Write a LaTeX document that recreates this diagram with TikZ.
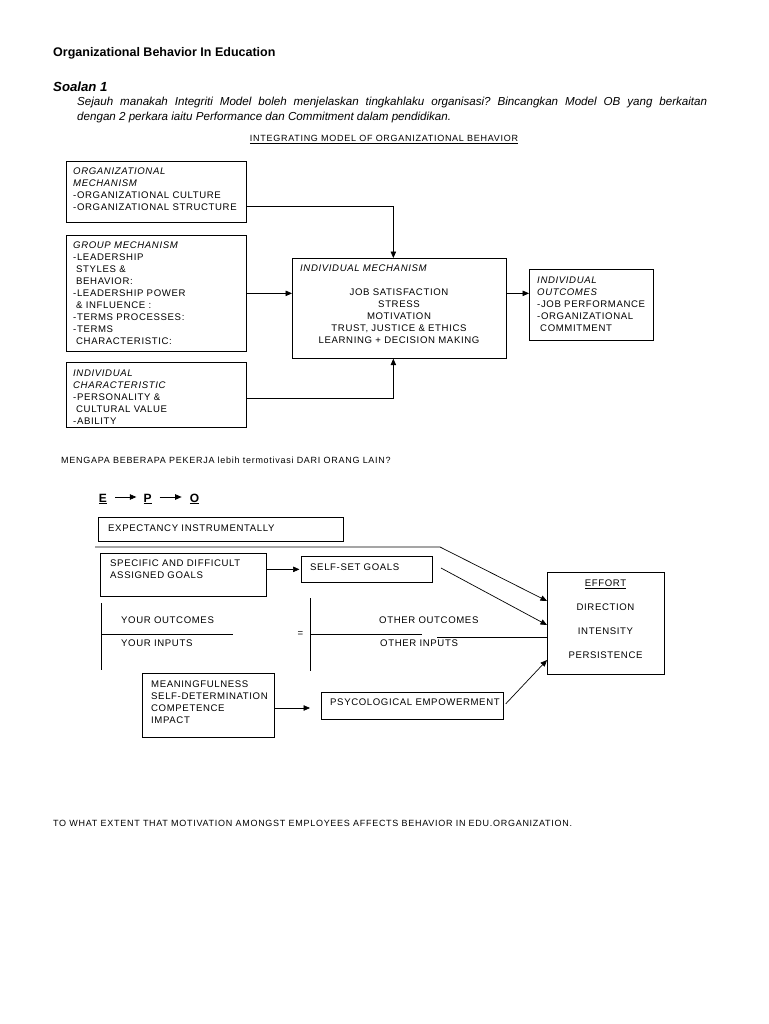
\documentclass[tikz,border=0pt]{standalone}
\usepackage{fontspec}
\setmainfont{Liberation Sans}
\newfontfamily\lsfont[LetterSpace=6.5]{Liberation Sans}
\newfontfamily\lsfontb[LetterSpace=8]{Liberation Sans}
\usetikzlibrary{arrows.meta,calc}
\newcommand\bxf{\lsfont\fontsize{9.6}{12}\selectfont}
\newcommand\smf{\lsfontb\fontsize{9}{11}\selectfont}
\frenchspacing
\begin{document}
\begin{tikzpicture}[x=1pt,y=-1pt,
  box/.style={draw, line width=0.7pt, inner sep=0pt, anchor=north west},
  tl/.style={font=\bxf, align=left, inner sep=0pt, anchor=north west},
  tc/.style={font=\bxf, align=center, inner sep=0pt, anchor=north},
  lbl/.style={font=\bxf, inner sep=0pt, anchor=base west},
  arr/.style={line width=0.7pt, -{Triangle[length=6.5pt,width=5.5pt]}},
  ln/.style={line width=0.7pt}]
\useasboundingbox[fill=white] (0,0) rectangle (768,1024);

% header
\node[anchor=base west, inner sep=0pt, font=\fontsize{12.5}{15}\bfseries\selectfont] (title) at (53,56.5) {Organizational Behavior In Education};
\node[anchor=base west, inner sep=0pt, font=\fontsize{13.2}{16}\bfseries\itshape\selectfont] (soalan) at (53,91.5) {Soalan 1};
\node[anchor=base west, inner sep=0pt, font=\fontsize{11.6}{14}\itshape\selectfont] (q1) at (77,106) {\makebox[630pt][s]{Sejauh manakah Integriti Model boleh menjelaskan tingkahlaku organisasi? Bincangkan Model OB yang berkaitan}};
\node[anchor=base west, inner sep=0pt, font=\fontsize{11.6}{14}\itshape\selectfont] (q2) at (77,121) {dengan 2 perkara iaitu Performance dan Commitment dalam pendidikan.};
\node[anchor=base, inner sep=0pt, font=\smf] (head) at (384,141.5) {\underline{INTEGRATING MODEL OF ORGANIZATIONAL BEHAVIOR}};

% first diagram boxes
\node[box, minimum width=180pt, minimum height=61pt] (org) at (66,161) {};
\node[box, minimum width=180pt, minimum height=116pt] (grp) at (66,235) {};
\node[box, minimum width=180pt, minimum height=65pt] (ich) at (66,362) {};
\node[box, minimum width=214pt, minimum height=100pt] (mech) at (292,258) {};
\node[box, minimum width=124pt, minimum height=71pt] (out) at (529,269) {};

\node[tl] (orgt) at (73,167.5) {\textit{ORGANIZATIONAL}\\\textit{MECHANISM}\\-ORGANIZATIONAL CULTURE\\-ORGANIZATIONAL STRUCTURE};
\node[tl] (grpt) at (73,241.5) {\textit{GROUP MECHANISM}\\-LEADERSHIP\\\hspace*{3pt}STYLES \&\\\hspace*{3pt}BEHAVIOR:\\-LEADERSHIP POWER\\\hspace*{3pt}\& INFLUENCE :\\-TERMS PROCESSES:\\-TERMS\\\hspace*{3pt}CHARACTERISTIC:};
\node[tl] (icht) at (73,369.5) {\textit{INDIVIDUAL}\\\textit{CHARACTERISTIC}\\-PERSONALITY \&\\\hspace*{3pt}CULTURAL VALUE\\-ABILITY};
\node[tl] (mecht) at (300,264.5) {\textit{INDIVIDUAL MECHANISM}};
\node[tc] (mechc) at (399,288.5) {JOB SATISFACTION\\STRESS\\MOTIVATION\\TRUST, JUSTICE \& ETHICS\\LEARNING + DECISION MAKING};
\node[tl] (outt) at (537,276.5) {\textit{INDIVIDUAL}\\\textit{OUTCOMES}\\-JOB PERFORMANCE\\-ORGANIZATIONAL\\\hspace*{3pt}COMMITMENT};

\draw[arr] ([yshift=16pt]org.south east) -| ([xshift=-6pt]mech.north);
\draw[arr] (grp.east) -- (grp.east -| mech.west);
\draw[arr] ([yshift=-3.5pt]ich.east) -| ([xshift=-6pt]mech.south);
\draw[arr] (mech.east |- grp.east) -- (out.west |- grp.east);

% question
\node[anchor=base west, inner sep=0pt, font=\smf] (meng) at (61,463.5) {MENGAPA BEBERAPA PEKERJA lebih termotivasi DARI ORANG LAIN?};

% E P O
\node[anchor=base, inner sep=0pt, font=\fontsize{12}{14}\bfseries\selectfont] (E) at (103,502) {\underline{E}};
\node[anchor=base, inner sep=0pt, font=\fontsize{12}{14}\bfseries\selectfont] (P) at (147.5,502) {\underline{P}};
\node[anchor=base, inner sep=0pt, font=\fontsize{12}{14}\bfseries\selectfont] (O) at (194.5,502) {\underline{O}};
\draw[arr] ($(E.base east)+(8,-5)$) -- ($(P.base west)+(-7,-5)$);
\draw[arr] ($(P.base east)+(8,-5)$) -- ($(O.base west)+(-8,-5)$);

% second diagram
\node[box, minimum width=245pt, minimum height=24pt] (exp) at (98,517) {};
\node[lbl] (expt) at (108,531.5) {EXPECTANCY INSTRUMENTALLY};
\node[box, minimum width=166pt, minimum height=43pt] (spec) at (100,553) {};
\node[tl] (spect) at (110,559.5) {SPECIFIC AND DIFFICULT\\ASSIGNED GOALS};
\node[box, minimum width=131pt, minimum height=26pt] (self) at (301,556) {};
\node[lbl] (selft) at (310,570.5) {SELF-SET GOALS};
\node[box, minimum width=117pt, minimum height=102pt] (eff) at (547,572) {};
\node[tc, font=\lsfont\fontsize{9.6}{24}\selectfont] (efft) at (605.5,579.5) {\underline{EFFORT}\\DIRECTION\\INTENSITY\\PERSISTENCE};
\node[box, minimum width=132pt, minimum height=64pt] (mean) at (142,673) {};
\node[tl] (meant) at (151,680.5) {MEANINGFULNESS\\SELF-DETERMINATION\\COMPETENCE\\IMPACT};
\node[box, minimum width=182pt, minimum height=27pt] (pe) at (321,692) {};
\node[lbl] (pet) at (330,705.5) {PSYCOLOGICAL EMPOWERMENT};

% equity
\node[lbl] (yo) at (121,623.5) {YOUR OUTCOMES};
\node[lbl] (yi) at (121,646.5) {YOUR INPUTS};
\node[lbl] (eq) at (297.5,636.5) {=};
\node[lbl] (oo) at (379,623.5) {OTHER OUTCOMES};
\node[lbl] (oi) at (380,646.5) {OTHER INPUTS};
\coordinate (lbt) at (101,603);
\coordinate (lbb) at (101,670);
\coordinate (lbm) at (101,634);
\coordinate (lbe) at (233,634);
\coordinate (rbt) at (310,598);
\coordinate (rbb) at (310,671);
\coordinate (rbm) at (310,634);
\coordinate (rbe) at (422,634);
\coordinate (ors) at (437,637);
\draw[ln] (lbt) -- (lbb);
\draw[ln] (lbm) -- (lbe);
\draw[ln] (rbt) -- (rbb);
\draw[ln] (rbm) -- (rbe);
\draw[ln] (ors) -- (ors -| eff.west);

% connectors to effort
\coordinate (hl) at (95,547);
\coordinate (hr) at (440,547);
\coordinate (s2) at (441,568);
\draw[arr] (hl) -- (hr) -- ($(eff.north west)+(0,29)$);
\draw[arr] (s2) -- ($(eff.north west)+(0,53)$);
\draw[arr] (spec.east |- self.west) -- ([xshift=-1.5pt]self.west);
\draw[arr] (mean.east |- 0,708) -- ([xshift=-11pt]pe.west |- 0,708);
\draw[arr] ([xshift=2pt,yshift=2pt]pe.east) -- ($(eff.north west)+(0,88)$);

% closing line
\node[anchor=base west, inner sep=0pt, font=\smf] (final) at (53,826.5) {TO WHAT EXTENT THAT MOTIVATION AMONGST EMPLOYEES AFFECTS BEHAVIOR IN EDU.ORGANIZATION.};
\end{tikzpicture}
\end{document}
